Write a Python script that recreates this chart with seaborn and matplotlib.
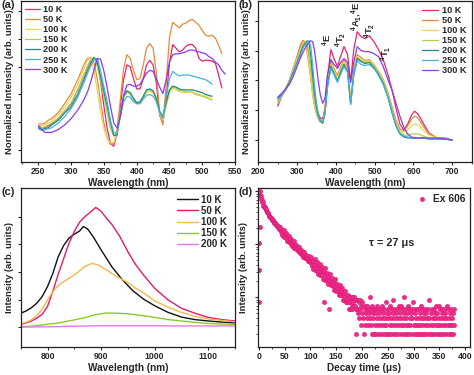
import numpy as np
import pandas as pd
import matplotlib
matplotlib.use("Agg")
import matplotlib.pyplot as plt
import seaborn as sns
from matplotlib.ticker import MultipleLocator, NullFormatter, LogLocator

# ---------------- data ----------------
temps_ab = ["10 K", "50 K", "100 K", "150 K", "200 K", "250 K", "300 K"]
colors_ab = ["#e8246c", "#e98a3a", "#eed35c", "#a9d64e", "#23857f", "#45b2e2", "#8b3ce6"]

# (a) excitation, normalised
wl_a = [250, 255, 260, 265, 270, 280, 290, 300, 310, 320,
        325, 330, 335, 340, 345, 350, 355, 360, 365, 370,
        375, 380, 385, 390, 395, 400, 405, 410, 415, 420,
        425, 430, 435, 440, 445, 450, 455, 460, 465, 470,
        475, 480, 485, 490, 495, 500, 505, 510, 515, 520,
        525, 530, 535]
nan = np.nan
a_10K = [0.26, 0.24, 0.24, 0.26, 0.28, 0.34, 0.42, 0.50, 0.65, 0.81,
         0.90, 0.97, 1.00, 0.95, 0.74, 0.47, 0.23, 0.07, 0.04, 0.18,
         0.47, 0.76, 0.92, 0.90, 0.77, 0.66, 0.66, 0.77, 0.92, 0.97,
         0.92, 0.72, 0.38, 0.30, 0.55, 0.94, 1.14, 1.10, 1.06, 1.08,
         1.12, 1.14, 1.14, 1.10, 0.99, 0.96, 0.97, 0.97, 0.96, 0.94,
         0.81, 0.67, nan]
a_50K = [0.28, 0.28, 0.29, 0.32, 0.34, 0.40, 0.50, 0.61, 0.76, 0.93,
         0.99, 1.00, 0.94, 0.76, 0.52, 0.29, 0.13, 0.06, 0.07, 0.22,
         0.54, 0.88, 1.03, 0.99, 0.86, 0.76, 0.77, 0.92, 1.10, 1.15,
         1.10, 0.83, 0.38, 0.27, 0.72, 1.22, 1.38, 1.35, 1.32, 1.36,
         1.37, 1.40, 1.41, 1.38, 1.35, 1.29, 1.24, 1.23, 1.24, 1.21,
         1.13, 1.04, nan]
a_100K = [0.27, 0.26, 0.27, 0.29, 0.31, 0.38, 0.46, 0.57, 0.71, 0.88,
          0.97, 1.00, 0.85, 0.63, 0.41, 0.23, 0.13, 0.08, 0.08, 0.18,
          0.40, 0.56, 0.62, 0.60, 0.54, 0.50, 0.50, 0.56, 0.62, 0.64,
          0.61, 0.54, 0.40, 0.32, 0.47, 0.61, 0.67, 0.65, 0.63, 0.62,
          0.62, 0.63, 0.63, 0.61, 0.60, 0.59, 0.58, 0.57, 0.55, nan,
          nan, nan, nan]
a_150K = [0.25, 0.24, 0.25, 0.27, 0.29, 0.34, 0.42, 0.51, 0.65, 0.82,
          0.91, 0.98, 1.00, 0.90, 0.74, 0.58, 0.40, 0.23, 0.15, 0.18,
          0.40, 0.58, 0.63, 0.61, 0.55, 0.51, 0.52, 0.58, 0.64, 0.65,
          0.63, 0.55, 0.41, 0.35, 0.50, 0.64, 0.68, 0.67, 0.64, 0.64,
          0.63, 0.63, 0.62, 0.60, 0.59, 0.58, 0.57, 0.55, 0.54, nan,
          nan, nan, nan]
a_200K = [0.24, 0.22, 0.23, 0.24, 0.27, 0.32, 0.40, 0.47, 0.60, 0.77,
          0.86, 0.94, 1.00, 0.95, 0.79, 0.63, 0.47, 0.29, 0.16, 0.16,
          0.38, 0.58, 0.64, 0.62, 0.56, 0.51, 0.52, 0.58, 0.65, 0.66,
          0.64, 0.56, 0.42, 0.36, 0.52, 0.65, 0.69, 0.68, 0.66, 0.65,
          0.65, 0.65, 0.65, 0.64, 0.63, 0.62, 0.60, 0.59, 0.58, nan,
          nan, nan, nan]
a_250K = [0.23, 0.21, 0.22, 0.23, 0.24, 0.29, 0.36, 0.45, 0.57, 0.74,
          0.83, 0.91, 0.98, 0.99, 0.85, 0.68, 0.52, 0.32, 0.19, 0.18,
          0.36, 0.52, 0.58, 0.57, 0.52, 0.50, 0.50, 0.55, 0.59, 0.60,
          0.58, 0.52, 0.41, 0.34, 0.58, 0.77, 0.85, 0.82, 0.80, 0.81,
          0.81, 0.81, 0.80, 0.79, 0.78, 0.77, 0.76, 0.74, 0.71, nan,
          nan, nan, nan]
a_300K = [0.26, 0.22, 0.19, 0.19, 0.19, 0.22, 0.27, 0.34, 0.43, 0.55,
          0.63, 0.74, 0.87, 0.99, 0.98, 0.85, 0.67, 0.47, 0.29, 0.24,
          0.36, 0.59, 0.70, 0.71, 0.69, 0.69, 0.71, 0.77, 0.83, 0.86,
          0.85, 0.77, 0.68, 0.61, 0.76, 0.95, 1.03, 1.04, 1.04, 1.05,
          1.06, 1.08, 1.08, 1.07, 1.06, 1.05, 1.04, 1.01, 0.99, 0.95,
          0.92, 0.86, 0.82]

# (b) excitation incl. 600 nm emission band, normalised
wl_b = [250, 260, 270, 280, 290, 300, 310, 315, 320, 325,
        330, 335, 340, 345, 350, 355, 360, 366, 372, 378,
        387, 395, 404, 412, 421, 430, 438, 446, 455, 465,
        475, 486, 498, 510, 522, 535, 545, 555, 565, 575,
        585, 595, 603, 612, 625, 640, 660, 680, 700]
b_10K = [0.34, 0.44, 0.51, 0.60, 0.72, 0.84, 0.97, 1.00, 0.99, 0.95,
         0.86, 0.72, 0.56, 0.42, 0.32, 0.26, 0.22, 0.21, 0.33, 0.62,
         0.91, 0.82, 0.74, 0.84, 0.94, 0.86, 0.59, 0.91, 1.09, 1.04,
         1.02, 1.05, 0.99, 0.91, 0.81, 0.65, 0.50, 0.32, 0.16, 0.10,
         0.16, 0.25, 0.29, 0.26, 0.17, 0.07, 0.02, 0.02, 0.00]
b_50K = [0.36, 0.44, 0.51, 0.60, 0.72, 0.84, 0.96, 1.00, 0.98, 0.90,
         0.78, 0.62, 0.46, 0.34, 0.26, 0.21, 0.18, 0.18, 0.30, 0.58,
         0.79, 0.72, 0.65, 0.73, 0.81, 0.74, 0.40, 0.70, 0.86, 0.83,
         0.80, 0.81, 0.76, 0.69, 0.61, 0.47, 0.33, 0.20, 0.11, 0.09,
         0.14, 0.21, 0.24, 0.22, 0.14, 0.06, 0.02, 0.01, 0.00]
b_100K = [0.37, 0.45, 0.52, 0.60, 0.71, 0.82, 0.93, 0.98, 1.00, 0.93,
          0.80, 0.64, 0.48, 0.36, 0.27, 0.21, 0.18, 0.17, 0.29, 0.56,
          0.77, 0.70, 0.62, 0.71, 0.79, 0.72, 0.38, 0.68, 0.84, 0.81,
          0.79, 0.80, 0.75, 0.68, 0.60, 0.45, 0.30, 0.17, 0.09, 0.07,
          0.10, 0.14, 0.16, 0.15, 0.10, 0.05, 0.02, 0.01, 0.00]
b_150K = [0.38, 0.45, 0.51, 0.59, 0.69, 0.80, 0.91, 0.96, 0.99, 1.00,
          0.90, 0.74, 0.56, 0.40, 0.29, 0.22, 0.19, 0.17, 0.28, 0.55,
          0.75, 0.68, 0.60, 0.69, 0.77, 0.70, 0.37, 0.67, 0.83, 0.80,
          0.78, 0.79, 0.74, 0.67, 0.58, 0.43, 0.28, 0.15, 0.07, 0.05,
          0.05, 0.06, 0.06, 0.06, 0.04, 0.02, 0.01, 0.01, 0.00]
b_200K = [0.42, 0.46, 0.51, 0.58, 0.68, 0.78, 0.89, 0.94, 0.97, 0.99,
          1.00, 0.86, 0.66, 0.47, 0.33, 0.24, 0.19, 0.17, 0.27, 0.54,
          0.74, 0.67, 0.59, 0.68, 0.76, 0.69, 0.36, 0.66, 0.82, 0.79,
          0.77, 0.78, 0.73, 0.66, 0.57, 0.42, 0.27, 0.14, 0.06, 0.03,
          0.02, 0.02, 0.02, 0.02, 0.02, 0.01, 0.01, 0.01, 0.00]
b_250K = [0.40, 0.45, 0.50, 0.57, 0.67, 0.77, 0.87, 0.92, 0.96, 0.98,
          1.00, 0.95, 0.76, 0.54, 0.37, 0.26, 0.20, 0.18, 0.27, 0.52,
          0.72, 0.66, 0.58, 0.66, 0.74, 0.68, 0.36, 0.65, 0.80, 0.76,
          0.75, 0.76, 0.72, 0.65, 0.56, 0.42, 0.28, 0.15, 0.07, 0.04,
          0.03, 0.02, 0.02, 0.02, 0.02, 0.01, 0.01, 0.01, 0.00]
b_300K = [0.43, 0.47, 0.51, 0.56, 0.64, 0.74, 0.84, 0.88, 0.92, 0.95,
          0.98, 1.00, 0.99, 0.90, 0.74, 0.58, 0.45, 0.37, 0.42, 0.65,
          0.81, 0.76, 0.72, 0.78, 0.82, 0.78, 0.58, 0.78, 0.94, 0.90,
          0.89, 0.89, 0.87, 0.84, 0.74, 0.60, 0.50, 0.37, 0.24, 0.13,
          0.06, 0.03, 0.02, 0.02, 0.02, 0.02, 0.02, 0.01, 0.00]

# (c) NIR emission
temps_c = ["10 K", "50 K", "100 K", "150 K", "200 K"]
colors_c = ["#111111", "#e8186e", "#f0b850", "#8acb2a", "#e27ae6"]
c_10K_x = [750, 760, 770, 780, 790, 800, 810, 820, 830, 840, 850, 860, 867, 875,
           885, 900, 920, 940, 960, 980, 1000, 1025, 1050, 1075, 1100, 1125, 1150]
c_10K_y = [0.51, 0.59, 0.71, 0.87, 1.11, 1.47, 1.95, 2.55, 2.95, 3.22, 3.36, 3.48, 3.64, 3.55,
           3.28, 2.80, 2.19, 1.71, 1.31, 1.01, 0.78, 0.54, 0.37, 0.28, 0.23, 0.19, 0.16]
c_50K_x = [750, 760, 770, 780, 790, 800, 810, 820, 830, 840, 850, 860, 870, 880, 890,
           900, 910, 920, 935, 950, 965, 980, 1000, 1025, 1050, 1075, 1100, 1125, 1150]
c_50K_y = [0.11, 0.16, 0.23, 0.33, 0.47, 0.75, 1.31, 1.92, 2.47, 3.04, 3.46, 3.80, 4.00, 4.16, 4.33,
           4.19, 3.94, 3.72, 3.28, 2.73, 2.25, 1.87, 1.41, 0.99, 0.69, 0.51, 0.36, 0.28, 0.23]
c_100K_x = [750, 760, 770, 780, 790, 800, 810, 820, 830, 840, 850, 860, 870, 883,
            895, 910, 930, 950, 965, 980, 1000, 1025, 1050, 1075, 1100, 1125, 1150]
c_100K_y = [0.13, 0.18, 0.27, 0.42, 0.66, 0.99, 1.29, 1.51, 1.65, 1.77, 1.89, 2.04, 2.20, 2.31,
            2.25, 2.07, 1.83, 1.61, 1.41, 1.23, 0.96, 0.73, 0.54, 0.40, 0.30, 0.25, 0.20]
c_150K_x = [750, 775, 800, 825, 850, 870, 890, 910, 930, 950, 975, 1000, 1025, 1050,
            1075, 1100, 1125, 1150]
c_150K_y = [0.02, 0.05, 0.11, 0.17, 0.27, 0.35, 0.46, 0.52, 0.51, 0.49, 0.43, 0.36, 0.28, 0.23,
            0.18, 0.14, 0.12, 0.10]
c_200K_x = [750, 800, 850, 900, 950, 1000, 1050, 1100, 1150]
c_200K_y = [0.01, 0.02, 0.04, 0.06, 0.06, 0.06, 0.05, 0.05, 0.05]

# (d) decay, counts; rising edge then 1 us channels from 2 to 379 us
rise_time = [0.4, 0.8, 1.2, 1.6]
rise_counts = [8, 33, 104, 215]
decay_t0, decay_t1 = 2, 380
decay_counts = [
    995, 849, 820, 703, 682, 627, 628, 538, 529, 505,
    490, 452, 457, 407, 405, 383, 391, 342, 342, 330,
    334, 307, 320, 289, 294, 279, 289, 254, 260, 250,
    251, 232, 243, 218, 224, 211, 219, 194, 199, 191,
    208, 167, 187, 151, 182, 160, 185, 140, 158, 140,
    161, 131, 145, 117, 142, 125, 145, 111, 125, 111,
    125, 103, 113, 93, 110, 99, 113, 87, 98, 87,
    99, 82, 89, 74, 88, 78, 89, 69, 77, 69,
    79, 64, 72, 58, 71, 63, 72, 56, 63, 55,
    64, 52, 58, 48, 58, 51, 59, 46, 52, 45,
    57, 39, 49, 34, 49, 40, 52, 33, 42, 35,
    46, 31, 39, 27, 40, 32, 42, 26, 34, 28,
    37, 26, 31, 22, 32, 8, 35, 21, 27, 23,
    29, 20, 25, 18, 6, 21, 27, 17, 21, 18,
    23, 16, 19, 14, 20, 16, 22, 13, 17, 14,
    18, 13, 15, 11, 16, 12, 17, 11, 13, 11,
    15, 9, 12, 9, 12, 10, 13, 8, 9, 8,
    11, 8, 10, 6, 9, 8, 10, 6, 7, 6,
    10, 8, 10, 7, 9, 7, 2, 6, 9, 6,
    9, 5, 8, 4, 9, 6, 7, 3, 8, 5,
    7, 4, 2, 6, 3, 7, 5, 4, 7, 6,
    3, 6, 5, 10, 4, 6, 3, 7, 2, 5,
    4, 2, 6, 3, 6, 5, 2, 4, 7, 3,
    6, 2, 5, 4, 3, 6, 2, 7, 4, 5,
    3, 6, 2, 4, 8, 3, 5, 2, 6, 4,
    2, 5, 3, 7, 4, 2, 6, 3, 9, 5,
    4, 2, 6, 3, 5, 2, 4, 6, 3, 7,
    2, 5, 4, 3, 7, 2, 6, 4, 3, 10,
    5, 2, 6, 3, 4, 2, 5, 7, 3, 6,
    2, 4, 3, 6, 5, 2, 4, 8, 3, 6,
    2, 5, 3, 4, 6, 2, 6, 3, 4, 2,
    5, 3, 7, 2, 4, 6, 3, 2, 5, 4,
    6, 2, 3, 5, 4, 2, 6, 3, 9, 4,
    2, 5, 3, 6, 2, 4, 3, 6, 2, 5,
    4, 3, 7, 2, 5, 3, 4, 7, 2, 6,
    3, 4, 2, 5, 6, 3, 2, 4, 6, 3,
    5, 2, 4, 7, 3, 6, 2, 4, 3, 5,
    2, 6, 4, 3, 5, 2, 6, 3,
]

# ---------------- style ----------------
sns.set_style("ticks")
plt.rcParams["font.family"] = ["Liberation Sans", "DejaVu Sans"]
plt.rcParams["font.weight"] = "bold"
plt.rcParams["axes.labelweight"] = "bold"
plt.rcParams["mathtext.fontset"] = "custom"
plt.rcParams["mathtext.rm"] = "Liberation Sans:bold"
plt.rcParams["mathtext.default"] = "rm"

fig = plt.figure(figsize=(4.74, 3.75), dpi=100)
ax_a = fig.add_axes([0.0437, 0.5672, 0.4521, 0.4301])
ax_b = fig.add_axes([0.545, 0.5672, 0.450, 0.4301])
ax_c = fig.add_axes([0.0437, 0.0739, 0.4521, 0.424])
ax_d = fig.add_axes([0.545, 0.0739, 0.447, 0.424])


def draw_lines(ax, xs, ys, labels, colors, lw=0.9):
    for x, y, lab, col in zip(xs, ys, labels, colors):
        df = pd.DataFrame({"x": x, "y": y}).dropna()
        sns.lineplot(data=df, x="x", y="y", ax=ax, color=col, label=lab,
                     lw=lw, sort=False, estimator=None)


def style_axes(ax, xlabel, ylabel, xmaj, xmin):
    ax.set_xlabel(xlabel, fontsize=7.2, fontweight="bold", labelpad=1.0)
    ax.set_ylabel(ylabel, fontsize=6.8, fontweight="bold", labelpad=2.5)
    ax.xaxis.set_major_locator(MultipleLocator(xmaj))
    ax.xaxis.set_minor_locator(MultipleLocator(xmin))
    ax.tick_params(which="major", direction="out", length=2.5, width=0.8,
                   labelsize=6.2, pad=1)
    ax.tick_params(which="minor", direction="out", length=1.5, width=0.6)
    ax.tick_params(axis="y", labelleft=False)
    for sp in ax.spines.values():
        sp.set_linewidth(0.9)
        sp.set_color("#222222")


# (a)
draw_lines(ax_a, [wl_a] * 7, [a_10K, a_50K, a_100K, a_150K, a_200K, a_250K, a_300K],
           temps_ab, colors_ab)
ax_a.set_xlim(223, 550)
ax_a.set_ylim(-0.133, 1.61)
ax_a.set_yticks([0, 0.3, 0.6, 0.9, 1.2, 1.5])
style_axes(ax_a, "Wavelength (nm)", "Normalized Intensity (arb. units)", 50, 25)
ax_a.legend(loc="upper left", bbox_to_anchor=(0.02, 0.975), frameon=False,
            prop={"size": 6.6, "weight": "bold"}, handlelength=1.6,
            handletextpad=0.35, labelspacing=0.12, borderpad=0, borderaxespad=0)

# (b)
draw_lines(ax_b, [wl_b] * 7, [b_10K, b_50K, b_100K, b_150K, b_200K, b_250K, b_300K],
           temps_ab, colors_ab)
ax_b.set_xlim(200, 750)
ax_b.set_ylim(-0.225, 1.40)
ax_b.set_yticks([0, 0.3, 0.6, 0.9, 1.2])
style_axes(ax_b, "Wavelength (nm)", "Normalized Intensity (arb. units)", 100, 50)
ax_b.legend(loc="upper left", bbox_to_anchor=(0.767, 0.97), frameon=False,
            prop={"size": 6.6, "weight": "bold"}, handlelength=1.8,
            handletextpad=0.35, labelspacing=0.12, borderpad=0, borderaxespad=0)
ann = [(r"$^4$E", 379, 0.95), (r"$^4$T$_2$", 412, 0.94), (r"$^4$A$_1$,$^4$E", 453, 1.10),
       (r"$^4$T$_2$", 486, 1.03), (r"$^4$T$_1$", 528, 0.80)]
for txt, xv, yv in ann:
    ax_b.text(xv, yv, txt, rotation=90, ha="center", va="bottom", fontsize=6.8,
              fontweight="bold")

# (c)
draw_lines(ax_c, [c_10K_x, c_50K_x, c_100K_x, c_150K_x, c_200K_x],
           [c_10K_y, c_50K_y, c_100K_y, c_150K_y, c_200K_y], temps_c, colors_c, lw=1.0)
ax_c.set_xlim(750, 1150)
ax_c.set_ylim(-0.72, 5.02)
ax_c.set_yticks([0, 1, 2, 3, 4])
style_axes(ax_c, "Wavelength (nm)", "Intensity (arb. units)", 100, 50)
ax_c.legend(loc="upper left", bbox_to_anchor=(0.729, 0.96), frameon=False,
            prop={"size": 7.0, "weight": "bold"}, handlelength=2.2,
            handletextpad=0.3, labelspacing=0.12, borderpad=0, borderaxespad=0)

# (d)
decay_time = list(rise_time) + list(np.arange(decay_t0, decay_t1))
decay_all = list(rise_counts) + decay_counts
df_d = pd.DataFrame({"time": decay_time, "counts": decay_all})
sns.scatterplot(data=df_d, x="time", y="counts", ax=ax_d, color="#ef2a8a",
                edgecolor="#d8176f", linewidth=0.3, s=10, label="Ex 606")
ax_d.set_yscale("log")
ax_d.set_xlim(-1, 410)
ax_d.set_ylim(1.14, 1140)
style_axes(ax_d, "Decay time (\u03bcs)", "Intensity (arb. units)", 50, 25)
ax_d.yaxis.set_major_locator(LogLocator(base=10))
ax_d.yaxis.set_minor_locator(LogLocator(base=10, subs=np.arange(2, 10)))
ax_d.yaxis.set_major_formatter(NullFormatter())
ax_d.yaxis.set_minor_formatter(NullFormatter())
ax_d.legend(loc="upper right", bbox_to_anchor=(0.976, 0.965), frameon=False,
            prop={"size": 7.4, "weight": "bold"}, handlelength=0.8,
            handletextpad=0.6, borderpad=0, borderaxespad=0, markerscale=1.0)
ax_d.text(0.63, 0.656, "\u03c4 = 27 \u03bcs", transform=ax_d.transAxes, ha="center",
          va="center", fontsize=7.8, fontweight="bold")

# panel tags
for tag, xf, yf in [("(a)", 0.003, 0.999), ("(b)", 0.503, 0.999),
                    ("(c)", 0.003, 0.501), ("(d)", 0.503, 0.501)]:
    fig.text(xf, yf, tag, ha="left", va="top", fontsize=8, fontweight="bold")

fig.savefig("out.png", dpi=100)
